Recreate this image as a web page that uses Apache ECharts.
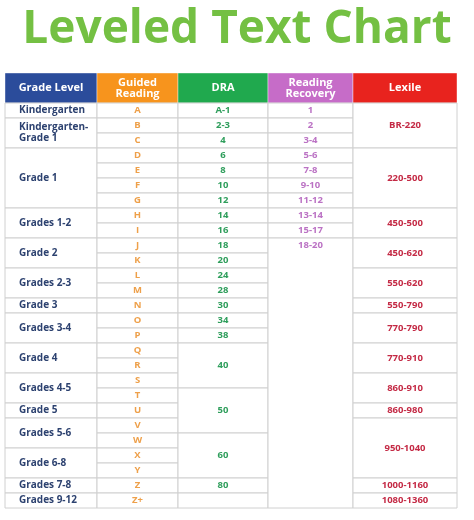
<!DOCTYPE html>
<html>
<head>
<meta charset="utf-8">
<script src="https://cdn.jsdelivr.net/npm/echarts@6/dist/echarts.min.js"></script>
<style>html,body{margin:0;padding:0;background:#fff}#chart{width:474px;height:520px}</style>
</head>
<body>
<div id="chart"></div>
<script>
// table content: [text, firstRow, lastRow]
var headers = ['Grade Level', 'Guided\nReading', 'DRA', 'Reading\nRecovery', 'Lexile'];
var guided = ['A','B','C','D','E','F','G','H','I','J','K','L','M','N','O','P','Q','R','S','T','U','V','W','X','Y','Z','Z+'];
var grades = [
  ['Kindergarten',0,0], ['Kindergarten-\nGrade 1',1,2], ['Grade 1',3,6], ['Grades 1-2',7,8],
  ['Grade 2',9,10], ['Grades 2-3',11,12], ['Grade 3',13,13], ['Grades 3-4',14,15],
  ['Grade 4',16,17], ['Grades 4-5',18,19], ['Grade 5',20,20], ['Grades 5-6',21,22],
  ['Grade 6-8',23,24], ['Grades 7-8',25,25], ['Grades 9-12',26,26]
];
var dra = [
  ['A-1',0,0], ['2-3',1,1], ['4',2,2], ['6',3,3], ['8',4,4], ['10',5,5], ['12',6,6],
  ['14',7,7], ['16',8,8], ['18',9,9], ['20',10,10], ['24',11,11], ['28',12,12],
  ['30',13,13], ['34',14,14], ['38',15,15], ['40',16,18], ['50',19,21], ['60',22,24],
  ['80',25,25], ['',26,26]
];
var recovery = [
  ['1',0,0], ['2',1,1], ['3-4',2,2], ['5-6',3,3], ['7-8',4,4], ['9-10',5,5],
  ['11-12',6,6], ['13-14',7,7], ['15-17',8,8], ['18-20',9,26]
];
var lexile = [
  ['BR-220',0,2], ['220-500',3,6], ['450-500',7,8], ['450-620',9,10], ['550-620',11,12],
  ['550-790',13,13], ['770-790',14,15], ['770-910',16,17], ['860-910',18,19],
  ['860-980',20,20], ['950-1040',21,24], ['1000-1160',25,25], ['1080-1360',26,26]
];

var colEdges = [0, 92, 173, 263, 348, 452];
var headColors = ['#2b4c9b', '#f7941d', '#20a94e', '#c66cc8', '#e8231e'];
var textColors = ['#2d4270', '#eea04a', '#2f9e5c', '#bb72c4', '#c42a45'];

var cells = [];
grades.forEach(function (g) { cells.push([0, g[1], g[2], g[0]]); });
guided.forEach(function (g, i) { cells.push([1, i, i, g]); });
dra.forEach(function (g) { cells.push([2, g[1], g[2], g[0]]); });
recovery.forEach(function (g) { cells.push([3, g[1], g[2], g[0]]); });
lexile.forEach(function (g) { cells.push([4, g[1], g[2], g[0]]); });

var heads = headers.map(function (h, i) { return [i, -2, -1, h]; });

function renderCell(isHead) {
  return function (params, api) {
    var c = api.value(0), r0 = api.value(1), r1 = api.value(2);
    var txt = isHead ? heads[params.dataIndex][3] : cells[params.dataIndex][3];
    var p0 = api.coord([colEdges[c], r0]);
    var p1 = api.coord([colEdges[c + 1], r1 + 1]);
    var w = p1[0] - p0[0], h = p1[1] - p0[1];
    // reading recovery merged cell keeps its text in the first row
    var ty = (c === 3 && r1 > r0 && !isHead) ? p0[1] + 7.5 : p0[1] + h / 2;
    var left = (c === 0 && !isHead);
    var size = isHead ? 11 : (c === 0 ? 10 : 9.5);
    return {
      type: 'group',
      children: [
        { type: 'rect', shape: { x: p0[0], y: p0[1], width: w, height: h },
          style: { fill: isHead ? headColors[c] : '#fff', stroke: isHead ? 'rgba(255,255,255,0.4)' : '#d0d0d0', lineWidth: 1 } },
        { type: 'text', x: left ? p0[0] + 14 : p0[0] + w / 2, y: ty,
          style: { text: txt, fill: isHead ? '#fff' : textColors[c],
            font: 'bold ' + size + 'px "Open Sans", sans-serif',
            align: left ? 'left' : 'center', verticalAlign: 'middle',
            lineHeight: 11 } }
      ]
    };
  };
}

var chart = echarts.init(document.getElementById('chart'));
chart.setOption({
  animation: false,
  title: {
    text: 'Leveled Text Chart', left: 'center', top: 2,
    textStyle: { color: '#74c043', fontSize: 46, fontWeight: 'bold', fontFamily: '"Open Sans", sans-serif' }
  },
  grid: { left: 5, right: 17, top: 73, bottom: 12 },
  xAxis: { type: 'value', min: 0, max: 452, show: false },
  yAxis: { type: 'value', min: -2, max: 27, inverse: true, show: false },
  series: [
    { type: 'custom', renderItem: renderCell(true), data: heads, encode: { x: 0, y: [1, 2] } },
    { type: 'custom', renderItem: renderCell(false), data: cells, encode: { x: 0, y: [1, 2] } }
  ]
});
</script>
</body>
</html>
